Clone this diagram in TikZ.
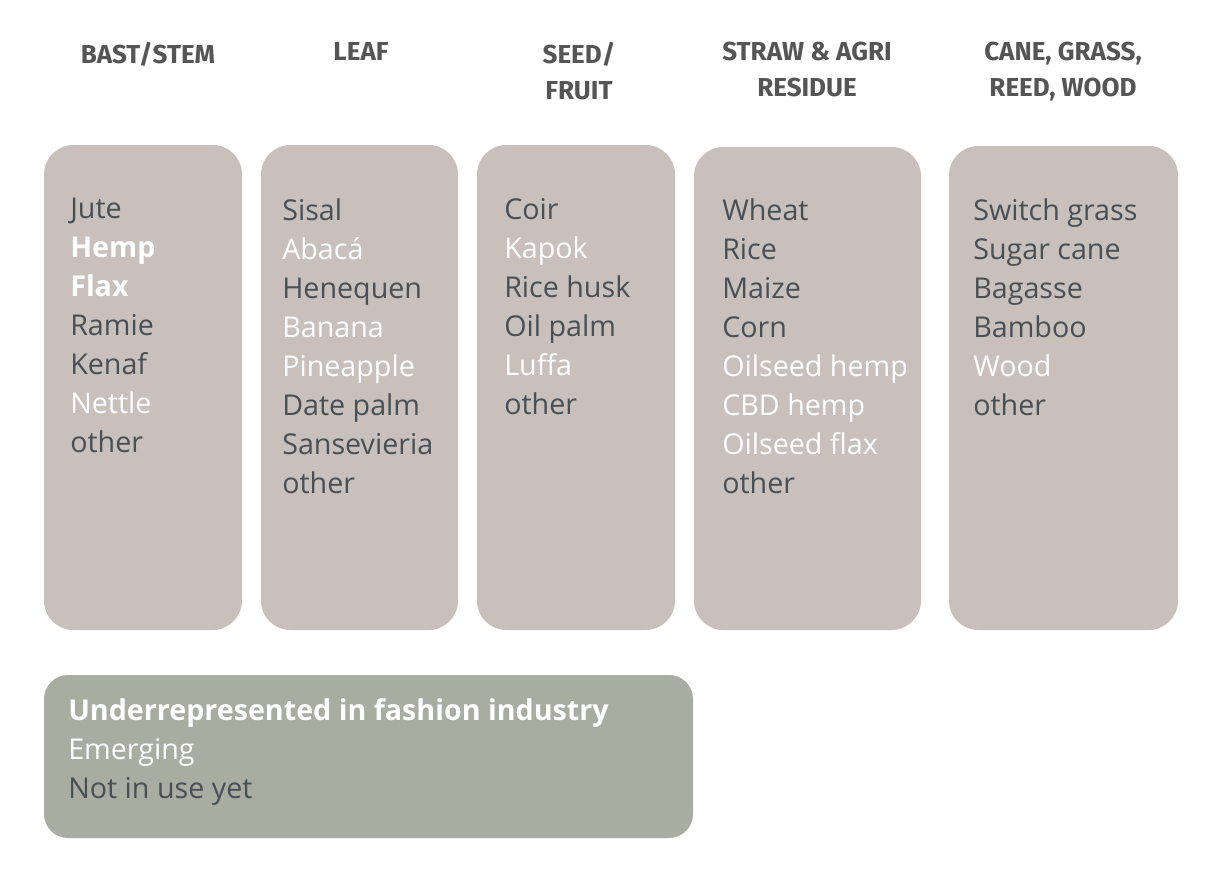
\documentclass[tikz,border=0pt]{standalone}
\usepackage{fontspec}
\setmainfont{Open Sans}
\newfontfamily\hdfont{Fira Sans}
\definecolor{boxc}{HTML}{C9C0BC}
\definecolor{legc}{HTML}{A9ACA0}
\definecolor{txt}{HTML}{474F57}
\definecolor{hdc}{HTML}{555555}
\begin{document}
\begin{tikzpicture}[x=0.75pt,y=-0.75pt,
  box/.style={fill=boxc,rounded corners=22pt},
  hd/.style={font=\hdfont\bfseries\fontsize{19.5}{27}\selectfont,text=hdc,align=center,anchor=north,inner sep=0},
  lst/.style={font=\fontsize{21.5}{29.25}\selectfont\addfontfeature{},text=txt,align=left,anchor=north west,inner sep=0}]
\useasboundingbox (0,0) rectangle (1230,879);
\fill[box] (44,145) rectangle (242,630);
\fill[box] (261,145) rectangle (458,630);
\fill[box] (477,145) rectangle (675,630);
\fill[box] (694,147) rectangle (921,630);
\fill[box] (949,146) rectangle (1178,630);
\fill[fill=legc,rounded corners=18pt] (44,675) rectangle (693,838);
\node[hd] (h1) at (148,42) {BAST/STEM};
\node[hd] (h2) at (361,42) {LEAF};
\node[hd] (h3) at (579,42) {SEED/\\FRUIT};
\node[hd] (h4) at (807,42) {STRAW \& AGRI\\RESIDUE};
\node[hd] (h5) at (1063,42) {CANE, GRASS,\\REED, WOOD};
\node[lst] (c1) at (70,198) {Jute\\{\color{white}\bfseries Hemp}\\{\color{white}\bfseries Flax}\\Ramie\\Kenaf\\{\color{white}Nettle}\\other};
\node[lst] (c2) at (282,198) {Sisal\\{\color{white}Abacá}\\Henequen\\{\color{white}Banana}\\{\color{white}Pineapple}\\Date palm\\Sansevieria\\other};
\node[lst] (c3) at (504,198) {Coir\\{\color{white}Kapok}\\Rice husk\\Oil palm\\{\color{white}Luffa}\\other};
\node[lst] (c4) at (722,198) {Wheat\\Rice\\Maize\\Corn\\{\color{white}Oilseed hemp}\\{\color{white}CBD hemp}\\{\color{white}Oilseed flax}\\other};
\node[lst] (c5) at (973,198) {Switch grass\\Sugar cane\\Bagasse\\Bamboo\\{\color{white}Wood}\\other};
\node[lst] (lg) at (68,698) {{\color{white}\bfseries Underrepresented in fashion industry}\\{\color{white}Emerging}\\Not in use yet};
\end{tikzpicture}
\end{document}
